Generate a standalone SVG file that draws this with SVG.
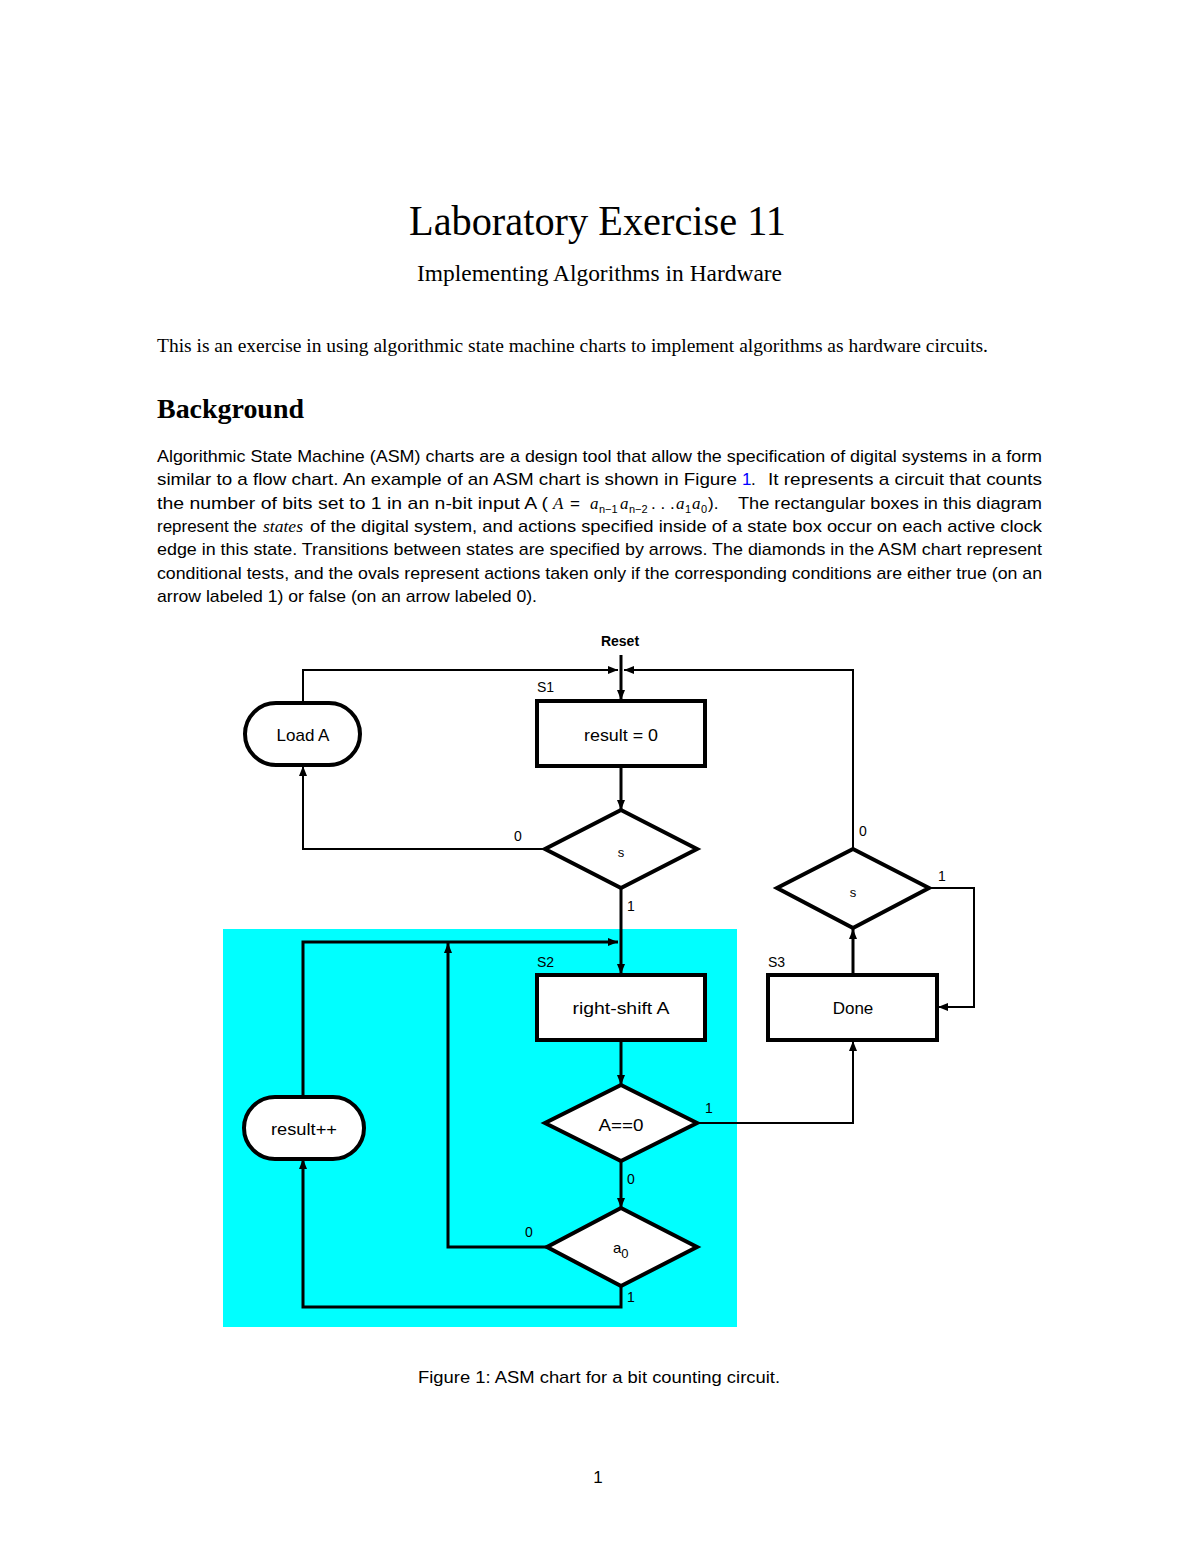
<svg xmlns="http://www.w3.org/2000/svg" width="1200" height="1553" viewBox="0 0 1200 1553">
<style>
.serif{font-family:"Liberation Serif","Times New Roman",serif;fill:#000}
.body{font-family:"Liberation Sans",Arial,sans-serif;font-size:17px;fill:#000}
.mi{font-family:"Liberation Serif","Times New Roman",serif;font-style:italic;font-size:17px;fill:#000}
.sub{font-family:"Liberation Sans",Arial,sans-serif;font-size:11px;fill:#000}
.lbl{font-family:"Liberation Sans",Arial,sans-serif;font-size:14px;fill:#000}
.node{font-family:"Liberation Sans",Arial,sans-serif;font-size:17px;fill:#000;text-anchor:middle}
.box{fill:#fff;stroke:#000;stroke-width:4}
.wire{fill:none;stroke:#000;stroke-width:2}
.wire3{fill:none;stroke:#000;stroke-width:3}
</style>
<defs>
<marker id="ah" viewBox="0 0 10 8" markerWidth="10" markerHeight="8" refX="10" refY="4" orient="auto" markerUnits="userSpaceOnUse">
<path d="M0,0 L10,4 L0,8 z" fill="#000"/>
</marker>
</defs>
<rect width="1200" height="1553" fill="#fff"/>

<text class="serif" x="409" y="235" font-size="42" textLength="377" lengthAdjust="spacingAndGlyphs">Laboratory Exercise 11</text>
<text class="serif" x="417" y="281" font-size="23" textLength="365" lengthAdjust="spacingAndGlyphs">Implementing Algorithms in Hardware</text>
<text class="serif" x="157" y="352" font-size="19" textLength="831" lengthAdjust="spacingAndGlyphs">This is an exercise in using algorithmic state machine charts to implement algorithms as hardware circuits.</text>
<text class="serif" x="157" y="418" font-size="28" font-weight="bold" textLength="147" lengthAdjust="spacingAndGlyphs">Background</text>

<g id="paragraph">
<text class="body" x="157" y="462" textLength="885" lengthAdjust="spacingAndGlyphs">Algorithmic State Machine (ASM) charts are a design tool that allow the specification of digital systems in a form</text>
<text class="body" x="157" y="485" textLength="580" lengthAdjust="spacingAndGlyphs">similar to a flow chart.  An example of an ASM chart is shown in Figure</text>
<text class="body" x="742" y="485" style="fill:#0000ff">1</text>
<text class="body" x="751" y="485">.</text>
<text class="body" x="768" y="485" textLength="274" lengthAdjust="spacingAndGlyphs">It represents a circuit that counts</text>
<text class="body" x="157" y="509" textLength="391" lengthAdjust="spacingAndGlyphs">the number of bits set to 1 in an n-bit input A (</text>
<text class="mi" x="553" y="509">A</text>
<text class="body" x="570" y="509">=</text>
<text class="mi" x="590" y="509">a</text>
<text class="sub" x="599" y="513">n−1</text>
<text class="mi" x="620" y="509">a</text>
<text class="sub" x="629" y="513">n−2</text>
<text class="body" x="651" y="509">. . .</text>
<text class="mi" x="676" y="509">a</text>
<text class="sub" x="685" y="513">1</text>
<text class="mi" x="692" y="509">a</text>
<text class="sub" x="701" y="513">0</text>
<text class="body" x="708" y="509">).</text>
<text class="body" x="738" y="509" textLength="304" lengthAdjust="spacingAndGlyphs">The rectangular boxes in this diagram</text>
<text class="body" x="157" y="532" textLength="100" lengthAdjust="spacingAndGlyphs">represent the</text>
<text class="mi" x="263" y="532" textLength="40" lengthAdjust="spacingAndGlyphs">states</text>
<text class="body" x="310" y="532" textLength="732" lengthAdjust="spacingAndGlyphs">of the digital system, and actions specified inside of a state box occur on each active clock</text>
<text class="body" x="157" y="555" textLength="885" lengthAdjust="spacingAndGlyphs">edge in this state. Transitions between states are specified by arrows. The diamonds in the ASM chart represent</text>
<text class="body" x="157" y="579" textLength="885" lengthAdjust="spacingAndGlyphs">conditional tests, and the ovals represent actions taken only if the corresponding conditions are either true (on an</text>
<text class="body" x="157" y="602" textLength="380" lengthAdjust="spacingAndGlyphs">arrow labeled 1) or false (on an arrow labeled 0).</text>
</g>

<rect id="highlight" x="223" y="929" width="514" height="398" fill="#00ffff"/>

<g id="connectors">
<polyline class="wire" points="303,703 303,670 618,670" marker-end="url(#ah)"/>
<polyline class="wire" points="853,849 853,670 624,670" marker-end="url(#ah)"/>
<line class="wire3" x1="621" y1="655" x2="621" y2="700" marker-end="url(#ah)"/>
<line class="wire3" x1="621" y1="766" x2="621" y2="810" marker-end="url(#ah)"/>
<polyline class="wire" points="545,849 303,849 303,766" marker-end="url(#ah)"/>
<line class="wire3" x1="621" y1="888" x2="621" y2="974" marker-end="url(#ah)"/>
<polyline class="wire3" points="303,1097 303,942 618,942" marker-end="url(#ah)"/>
<line class="wire3" x1="621" y1="1040" x2="621" y2="1085" marker-end="url(#ah)"/>
<polyline class="wire" points="697,1123 853,1123 853,1041" marker-end="url(#ah)"/>
<line class="wire3" x1="621" y1="1161" x2="621" y2="1208" marker-end="url(#ah)"/>
<polyline class="wire3" points="547,1247 448,1247 448,943" marker-end="url(#ah)"/>
<polyline class="wire3" points="621,1286 621,1307 303,1307 303,1159" marker-end="url(#ah)"/>
<line class="wire3" x1="853" y1="975" x2="853" y2="929" marker-end="url(#ah)"/>
<polyline class="wire" points="929,888 974,888 974,1007 938,1007" marker-end="url(#ah)"/>
</g>

<g id="conn-labels">
<text class="lbl" x="620" y="646" text-anchor="middle" style="font-weight:bold">Reset</text>
<text class="lbl" x="514" y="841">0</text>
<text class="lbl" x="627" y="911">1</text>
<text class="lbl" x="859" y="836">0</text>
<text class="lbl" x="938" y="881">1</text>
<text class="lbl" x="705" y="1113">1</text>
<text class="lbl" x="627" y="1184">0</text>
<text class="lbl" x="525" y="1237">0</text>
<text class="lbl" x="627" y="1302">1</text>
</g>

<g id="S1">
<text class="lbl" x="537" y="692">S1</text>
<rect class="box" x="537" y="701" width="168" height="65"/>
<text class="node" x="621" y="741" textLength="74" lengthAdjust="spacingAndGlyphs">result = 0</text>
</g>
<g id="loadA">
<rect class="box" x="245" y="703" width="115" height="62" rx="31" ry="31"/>
<text class="node" x="303" y="741">Load A</text>
</g>
<g id="diamond-s1">
<polygon class="box" points="621,810 697,849 621,888 545,849"/>
<text class="lbl" x="621" y="857" text-anchor="middle" style="font-size:13px">s</text>
</g>
<g id="S2">
<text class="lbl" x="537" y="967">S2</text>
<rect class="box" x="537" y="975" width="168" height="65"/>
<text class="node" x="621" y="1014" textLength="97" lengthAdjust="spacingAndGlyphs">right-shift A</text>
</g>
<g id="diamond-A0">
<polygon class="box" points="621,1085 697,1123 621,1161 545,1123"/>
<text class="node" x="621" y="1131" textLength="45" lengthAdjust="spacingAndGlyphs">A==0</text>
</g>
<g id="diamond-a0">
<polygon class="box" points="621,1208 697,1247 621,1286 547,1247"/>
<text class="lbl" x="613" y="1253" style="font-size:15px">a<tspan dy="5" style="font-size:13px">0</tspan></text>
</g>
<g id="resultpp">
<rect class="box" x="244" y="1097" width="120" height="62" rx="31" ry="31"/>
<text class="node" x="304" y="1135" textLength="66" lengthAdjust="spacingAndGlyphs">result++</text>
</g>
<g id="S3">
<text class="lbl" x="768" y="967">S3</text>
<rect class="box" x="768" y="975" width="169" height="65"/>
<text class="node" x="853" y="1014">Done</text>
</g>
<g id="diamond-s3">
<polygon class="box" points="853,849 929,888 853,928 777,888"/>
<text class="lbl" x="853" y="897" text-anchor="middle" style="font-size:13px">s</text>
</g>

<text class="body" x="418" y="1383" textLength="362" lengthAdjust="spacingAndGlyphs">Figure 1:  ASM chart for a bit counting circuit.</text>
<text class="body" x="598" y="1483" text-anchor="middle">1</text>
</svg>
